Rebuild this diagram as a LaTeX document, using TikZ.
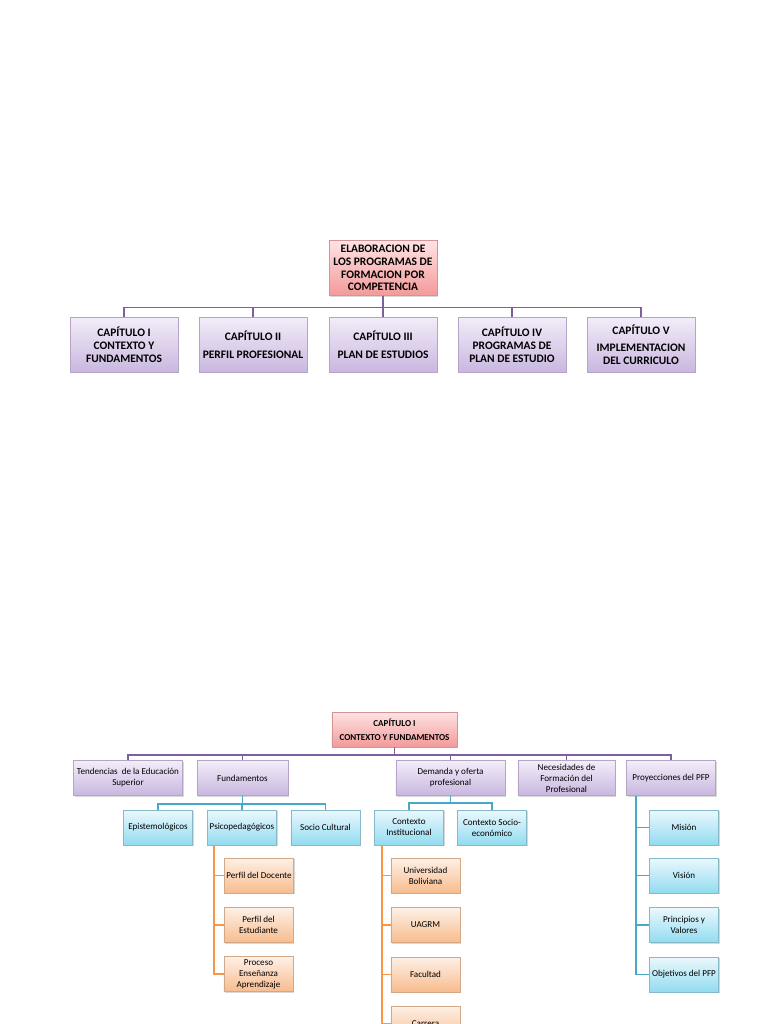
\documentclass[tikz,border=0pt]{standalone}
\usepackage{fontspec}
\setmainfont{Carlito}
\usetikzlibrary{shadows}
\definecolor{lilaTop}{HTML}{F3EDF9}
\definecolor{lilaBot}{HTML}{C9B7DF}
\definecolor{lilaEdge}{HTML}{B4A4C6}
\definecolor{rosaTop}{HTML}{FFE3E3}
\definecolor{rosaBot}{HTML}{F29A9A}
\definecolor{rosaEdge}{HTML}{D49494}
\definecolor{cianTop}{HTML}{EBF8FD}
\definecolor{cianBot}{HTML}{92DCF0}
\definecolor{cianEdge}{HTML}{86B8C6}
\definecolor{narTop}{HTML}{FDF0E6}
\definecolor{narBot}{HTML}{F8BC8E}
\definecolor{narEdge}{HTML}{D2A886}
\definecolor{lineaLila}{HTML}{7E60A2}
\definecolor{lineaCian}{HTML}{47A9C5}
\definecolor{lineaNar}{HTML}{F79646}

\begin{document}
\begin{tikzpicture}[x=0.75pt,y=-0.75pt,caja/.style={draw=lilaEdge,thin,top color=lilaTop,bottom color=lilaBot,drop shadow={shadow xshift=0.9pt,shadow yshift=-0.9pt,fill=black!30},align=center,inner sep=1pt},grande/.style={caja,minimum width=81pt,minimum height=41pt,font=\fontsize{8.6}{9.6}\selectfont\bfseries},raiz/.style={draw=rosaEdge,top color=rosaTop,bottom color=rosaBot},chica/.style={caja,minimum height=26pt,font=\fontsize{6.8}{8.2}\selectfont},cian/.style={chica,draw=cianEdge,top color=cianTop,bottom color=cianBot,minimum width=52pt},naranja/.style={chica,draw=narEdge,top color=narTop,bottom color=narBot,minimum width=52pt},lila/.style={line width=1.1pt,draw=lineaLila},celeste/.style={line width=1.1pt,draw=lineaCian},anaranjada/.style={line width=1.1pt,draw=lineaNar}]
\useasboundingbox[fill=white] (0,0) rectangle (768,1024);
% esquema general
\node[grande,raiz] (elab) at (383,268) {ELABORACION DE\\LOS PROGRAMAS DE\\FORMACION POR\\COMPETENCIA};
\node[grande] (capI) at (124,344.5) {CAPÍTULO I\\CONTEXTO Y\\FUNDAMENTOS};
\node[grande] (capII) at (253,344.5) {CAPÍTULO II\\[4pt]PERFIL PROFESIONAL};
\node[grande] (capIII) at (383,344.5) {CAPÍTULO III\\[4pt]PLAN DE ESTUDIOS};
\node[grande] (capIV) at (512,344.5) {CAPÍTULO IV\\PROGRAMAS DE\\PLAN DE ESTUDIO};
\node[grande] (capV) at (641,344.5) {CAPÍTULO V\\[3pt]IMPLEMENTACION\\DEL CURRICULO};
\draw[lila] (elab.south) -- ++(0,12) -| (capI.north);
\draw[lila] (elab.south) -- ++(0,12) -| (capII.north);
\draw[lila] (elab.south) -- ++(0,12) -| (capIII.north);
\draw[lila] (elab.south) -- ++(0,12) -| (capIV.north);
\draw[lila] (elab.south) -- ++(0,12) -| (capV.north);
% capitulo I
\node[chica,raiz,minimum width=94pt,font=\fontsize{6.8}{8.2}\selectfont\bfseries] (cap) at (394.5,729.5) {CAPÍTULO I\\[2pt]CONTEXTO Y FUNDAMENTOS};
\node[chica,minimum width=82pt] (tend) at (128,778) {Tendencias~ de la Educación\\Superior};
\node[chica,minimum width=68pt] (fund) at (242.5,778) {Fundamentos};
\node[chica,minimum width=82pt] (dem) at (450.5,778) {Demanda y oferta\\profesional};
\node[chica,minimum width=73pt] (nec) at (566.5,778) {Necesidades de\\Formación del\\Profesional};
\node[chica,minimum width=67pt] (proy) at (671,778) {Proyecciones del PFP};
\draw[lila] (cap.south) -- ++(0,8) -| (tend.north);
\draw[lila] (cap.south) -- ++(0,8) -| (fund.north);
\draw[lila] (cap.south) -- ++(0,8) -| (dem.north);
\draw[lila] (cap.south) -- ++(0,8) -| (nec.north);
\draw[lila] (cap.south) -- ++(0,8) -| (proy.north);
\node[cian] (epis) at (158,827.5) {Epistemológicos};
\node[cian] (psico) at (242,827.5) {Psicopedagógicos};
\node[cian] (socio) at (325.5,827.5) {Socio Cultural};
\node[cian] (cinst) at (409,827.5) {Contexto\\Institucional};
\node[cian] (csoc) at (492,827.5) {Contexto Socio-\\económico};
\draw[celeste] (fund.south) -- ++(0,8.5) -| (epis.north);
\draw[celeste] (fund.south) -- ++(0,8.5) -| (psico.north);
\draw[celeste] (fund.south) -- ++(0,8.5) -| (socio.north);
\draw[celeste] (dem.south) -- ++(0,7.5) -| (cinst.north);
\draw[celeste] (dem.south) -- ++(0,7.5) -| (csoc.north);
\node[naranja] (docente) at (259,875.5) {Perfil del Docente};
\node[naranja] (estud) at (258.5,925) {Perfil del\\Estudiante};
\node[naranja] (proceso) at (258.5,974) {Proceso\\Enseñanza\\Aprendizaje};
\draw[anaranjada] (psico.south west) ++(7,0) |- (docente.west);
\draw[anaranjada] (psico.south west) ++(7,0) |- (estud.west);
\draw[anaranjada] (psico.south west) ++(7,0) |- (proceso.west);
\node[naranja] (univ) at (425.5,875.5) {Universidad\\Boliviana};
\node[naranja] (uagrm) at (425.5,925) {UAGRM};
\node[naranja] (facu) at (425.5,974.5) {Facultad};
\node[naranja] (carr) at (425.5,1023.5) {Carrera};
\draw[anaranjada] (cinst.south west) ++(8,0) |- (univ.west);
\draw[anaranjada] (cinst.south west) ++(8,0) |- (uagrm.west);
\draw[anaranjada] (cinst.south west) ++(8,0) |- (facu.west);
\draw[anaranjada] (cinst.south west) ++(8,0) |- (carr.west);
\node[cian] (mision) at (684,827.5) {Misión};
\node[cian] (vision) at (684,875.5) {Visión};
\node[cian] (princ) at (684,925) {Principios y\\Valores};
\node[cian] (objet) at (684,974.5) {Objetivos del PFP};
\draw[celeste] (proy.south west) ++(10,0) |- (mision.west);
\draw[celeste] (proy.south west) ++(10,0) |- (vision.west);
\draw[celeste] (proy.south west) ++(10,0) |- (princ.west);
\draw[celeste] (proy.south west) ++(10,0) |- (objet.west);
\end{tikzpicture}
\end{document}
